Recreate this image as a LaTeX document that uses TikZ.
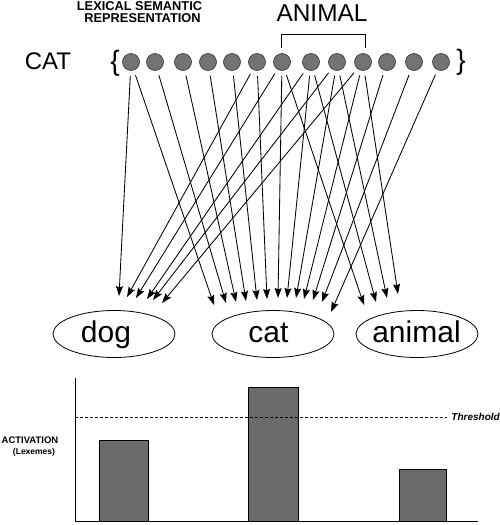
\documentclass[tikz,border=0pt]{standalone}
\usepackage{fontspec}
\setmainfont{Liberation Sans}
\usetikzlibrary{shapes.geometric,arrows.meta}
\begin{document}
\begin{tikzpicture}[x=1pt,y=-1pt,
  feat/.style={circle,minimum size=17pt,inner sep=0pt,fill=black!55,draw=black!80,line width=0.6pt},
  lexbox/.style={ellipse,draw,line width=0.8pt,minimum width=122pt,minimum height=47pt,inner sep=0pt},
  lextxt/.style={font=\fontsize{30}{36}\selectfont,anchor=base,inner sep=0pt},
  link/.style={line width=0.85pt,-{Stealth[length=10pt,width=7pt,inset=1.5pt]},shorten <=5pt},
  bar/.style={fill=black!58,draw=black,line width=0.6pt},
  small/.style={font=\bfseries\fontsize{12.8}{14}\selectfont,inner sep=0pt}]
\useasboundingbox (0,0) rectangle (500,525);
% titles
\node[small] (lex1) at (139.5,6) {LEXICAL SEMANTIC};
\node[small] (lex2) at (142.5,18.5) {REPRESENTATION};
\node[inner sep=0pt,font=\fontsize{24.4}{28}\selectfont] (animaltitle) at (322,13.5) {ANIMAL};
\node[inner sep=0pt,font=\fontsize{24}{28}\selectfont] (cattitle) at (48,61) {CAT};
\node[inner sep=0pt,font=\fontsize{28}{30}\selectfont] (lbrace) at (115,63.5) {\{};
\node[inner sep=0pt,font=\fontsize{28}{30}\selectfont] (rbrace) at (461,62.5) {\}};
% features
\foreach \x [count=\i] in {131,155,183,208,232,257,282,311,337,363,387,414,441}
  \node[feat] (f\i) at (\x,62) {};
% bracket over animal features
\draw[line width=0.8pt] (281,48) -- (281,34) -- (365,34) -- (365,48);
% lexemes
\node[lexbox] (dog) at (114,334) {};
\node[lexbox] (cat) at (273,334) {};
\node[lexbox] (animal) at (417,334) {};
\node[lextxt] (dogt) at (106,342) {dog};
\node[lextxt] (catt) at (268.5,342) {cat};
\node[lextxt] (animalt) at (416.5,342) {animal};
% connections
\foreach \s/\tx/\ty [count=\k] in {
  1/119/296, 6/127/297, 7/136/298, 8/147/299, 9/153/300, 10/162/303,
  1/214/305, 2/226/303, 3/236/302, 4/246/301, 5/257/300, 6/267/299, 7/278/298,
  8/287/298, 9/296/298, 10/304/299, 11/313/300, 12/322/302, 13/331/312,
  7/364/305, 8/376/302, 9/387/298, 10/398/294}
{
  \coordinate (tip\k) at (\tx,\ty);
  \draw[link] (f\s) -- (tip\k);
}
% chart
\draw[bar] (99,440) rectangle (148,521);
\draw[bar] (248,387) rectangle (298,521);
\draw[bar] (399,469) rectangle (446,521);
\draw[line width=0.9pt] (75,378) -- (75,521) -- (478,521);
\draw[line width=0.6pt,dash pattern=on 3pt off 2pt] (75,417) -- (447,417);
\node[anchor=east,inner sep=0pt,font=\bfseries\itshape\fontsize{10}{12}\selectfont] (thr) at (500,417) {Threshold};
\node[inner sep=0pt,font=\bfseries\fontsize{9.5}{11}\selectfont] (act) at (30,440) {ACTIVATION};
\node[inner sep=0pt,font=\bfseries\fontsize{8.5}{10}\selectfont] (lexm) at (34,452) {(Lexemes)};
\end{tikzpicture}
\end{document}
